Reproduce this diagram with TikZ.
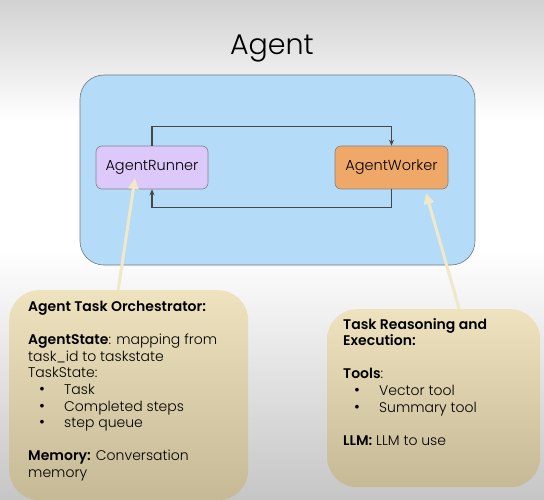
\documentclass[tikz,border=0pt]{standalone}
\usepackage{fontspec}
\setmainfont{Poppins}[UprightFont=* Light, BoldFont=* SemiBold]
\usetikzlibrary{arrows.meta,positioning}

\definecolor{bgtop}{RGB}{210,210,210}
\definecolor{bgbot}{RGB}{198,198,198}
\definecolor{framefill}{RGB}{180,220,248}
\definecolor{framedraw}{RGB}{110,120,130}
\definecolor{runnerfill}{RGB}{221,200,250}
\definecolor{workerfill}{RGB}{240,168,104}
\definecolor{boxdraw}{RGB}{130,130,135}
\definecolor{flowline}{RGB}{70,70,70}
\definecolor{notetop}{RGB}{238,227,190}
\definecolor{notebot}{RGB}{198,186,150}
\definecolor{pointerline}{RGB}{240,232,200}

\newcommand{\bulitem}{\hspace*{11pt}\makebox[25pt][l]{\fontsize{16}{16}\selectfont\textbullet}}

\begin{document}
\begin{tikzpicture}[x=1pt, y=1pt,
    frame/.style={draw=framedraw, fill=framefill, rounded corners=24pt, line width=0.6pt},
    agentbox/.style={draw=boxdraw, rounded corners=6pt, line width=0.6pt,
        minimum width=112pt, minimum height=43pt, inner sep=0pt,
        font=\fontsize{14.5}{17}\selectfont},
    flow/.style={-{Stealth[length=6pt,width=5pt]}, draw=flowline, line width=1.2pt},
    note/.style={top color=notetop, bottom color=notebot, rounded corners=30pt,
        anchor=north west, font=\fontsize{14}{16.6}\selectfont},
    pointer/.style={-{Triangle[length=11pt,width=10pt]}, draw=pointerline, line width=3pt}]
    % Draw background
    \useasboundingbox (0,0) rectangle (544,499);
    \shade[top color=bgtop, bottom color=white] (0,380) rectangle (544,499);
    \fill[white] (0,250) rectangle (544,380);
    \shade[top color=white, bottom color=bgbot] (0,0) rectangle (544,250);

    % Draw agent frame
    \node [anchor=base, font=\fontsize{28.5}{34}\selectfont] (agent) at (272,444) {Agent};
    \node [frame, minimum width=395pt, minimum height=190pt] (frame) at (277.5,329) {};
    \node [agentbox, fill=runnerfill] (runner) at (152,331.5) {AgentRunner};
    \node [agentbox, fill=workerfill, minimum width=113pt] (worker) at (391.5,331.5) {AgentWorker};
    \draw [flow] (runner.north) -- ++(0,19) -| (worker.north);
    \draw [flow] (worker.south) -- ++(0,-18) -| (runner.south);

    % Draw notes
    \node [note, inner xsep=19pt, inner ysep=11pt] (orch) at (9,209) {%
        \parbox[c][188pt][t]{201pt}{%
        \textbf{Agent Task Orchestrator:}\\[\baselineskip]
        \textbf{AgentState}: mapping from\\
        task\_id to taskstate\\
        TaskState:\\
        \bulitem Task\\
        \bulitem Completed steps\\
        \bulitem step queue\\[\baselineskip]
        \textbf{Memory:} Conversation\\
        memory}};
    \node [note, inner xsep=16pt, inner ysep=9pt] (reason) at (327,190) {%
        \parbox[c][160pt][t]{181pt}{%
        \textbf{Task Reasoning and}\\
        \textbf{Execution:}\\[\baselineskip]
        \textbf{Tools}:\\
        \bulitem Vector tool\\
        \bulitem Summary tool\\[\baselineskip]
        \textbf{LLM:} LLM to use}};

    % Draw pointers
    \coordinate (runtip) at ([xshift=-17pt,yshift=-10.5pt]runner.center);
    \coordinate (worktip) at ([xshift=34.5pt,yshift=-25.5pt]worker.center);
    \draw [pointer] ([xshift=-10.5pt]orch.north) -- (runtip);
    \draw [pointer] ([xshift=25.5pt]reason.north) -- (worktip);
\end{tikzpicture}
\end{document}
